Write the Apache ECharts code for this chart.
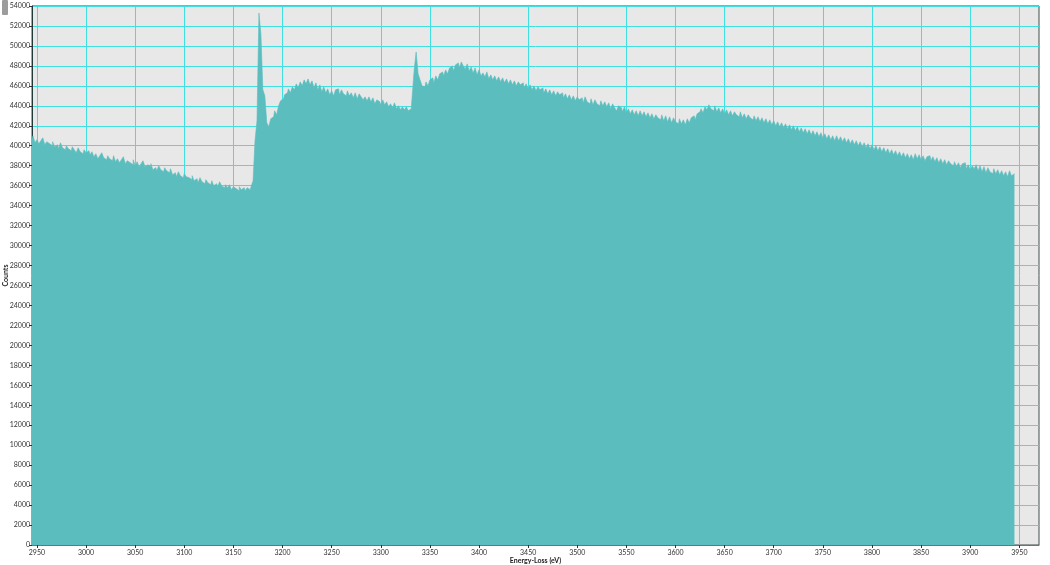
<!DOCTYPE html>
<html>
<head>
<meta charset="utf-8">
<script src="https://cdn.jsdelivr.net/npm/echarts@6/dist/echarts.min.js"></script>
<style>
html,body{margin:0;padding:0;background:#fff;}
#chart{width:1050px;height:565px;}
</style>
</head>
<body>
<div id="chart"></div>
<script>
// Energy-loss channels: first channel energy (eV) and channel width (eV)
const energyStart = 2945;
const energyStep = 2;
// Counts per channel (rows of 10 channels = 20 eV)
const counts = [
  40700, 41000, 40300, 40600, 40200, 40500, 40800, 40100, 40400, 40200,
  40000, 40400, 39900, 40100, 39700, 40300, 39800, 39600, 40000, 39700,
  39500, 39900, 39600, 39300, 39800, 39400, 39200, 39600, 39300, 39500,
  39100, 39400, 38900, 39200, 38700, 39000, 39300, 38800, 38600, 39000,
  38700, 38500, 39000, 38400, 38700, 38300, 38600, 38900, 38200, 38500,
  38300, 38100, 38600, 38000, 38400, 37900, 38200, 38500, 37900, 38100,
  37900, 38200, 37600, 37800, 37500, 38000, 37600, 37400, 37800, 37500,
  37300, 37700, 37100, 37300, 36900, 37400, 37000, 36800, 37200, 36900,
  36800, 36600, 37000, 36500, 36700, 36300, 36800, 36400, 36200, 36600,
  36300, 36100, 36500, 36000, 36200, 35900, 36400, 36000, 35800, 36100,
  35800, 36100, 35600, 35900, 35700, 35500, 35900, 35600, 35800, 35500,
  35800, 35600, 35900, 36500, 40500, 42500, 53300, 51200, 45600, 45000,
  42300, 41900, 42700, 42900, 43500, 43100, 44000, 44500, 44700, 45100,
  45300, 45700, 45300, 45900, 45600, 46200, 45800, 46400, 46000, 46600,
  46200, 46700, 46100, 46500, 45800, 46300, 45600, 46100, 45400, 45900,
  45300, 45700, 45100, 45500, 45000, 45600, 45700, 45100, 45600, 45200,
  45000, 45500, 45000, 45300, 44800, 45300, 44700, 45200, 44900, 44600,
  44900, 44500, 44900, 44400, 44800, 44200, 44600, 44400, 44100, 44600,
  44100, 44400, 43900, 44200, 43800, 44300, 43700, 44000, 43600, 43900,
  43600, 43900, 43500, 43700, 45000, 47600, 49400, 47200, 46600, 46000,
  45900, 46400, 46000, 46600, 46800, 46300, 47000, 46600, 47200, 47400,
  47000, 47600, 47200, 47800, 48000, 47500, 48100, 48300, 47800, 48400,
  48000, 47700, 48200, 47500, 47900, 47300, 47800, 47100, 47600, 47000,
  47300, 46900, 47400, 46700, 47100, 46600, 47000, 46500, 46900, 46400,
  46800, 46300, 46700, 46200, 46600, 46100, 46500, 46000, 46400, 46100,
  46300, 45800, 46200, 45700, 46100, 45600, 46000, 45500, 45900, 45600,
  45800, 45300, 45700, 45200, 45600, 45100, 45500, 45000, 45400, 45100,
  45300, 44800, 45200, 44700, 45100, 44600, 45000, 44500, 44900, 44600,
  44800, 44300, 44900, 44400, 44200, 44700, 44100, 44600, 44200, 44000,
  44500, 44000, 44400, 43900, 44300, 43700, 44200, 43800, 43500, 44000,
  43800, 43400, 43900, 43300, 43700, 43200, 43600, 43100, 43500, 43000,
  43500, 43000, 43400, 42900, 43300, 42800, 43200, 42700, 43100, 42800,
  42600, 43100, 42500, 43000, 42400, 42900, 42300, 42800, 42400, 42200,
  42700, 42200, 42600, 42100, 42700, 42300, 42800, 43000, 42600, 43200,
  43400, 43700, 43300, 43900, 43600, 44100, 43700, 43500, 44000, 43400,
  43800, 43300, 43700, 43200, 43600, 43100, 43500, 43000, 43400, 43100,
  42900, 43400, 42800, 43200, 42700, 43100, 42800, 42600, 43000, 42500,
  42900, 42400, 42800, 42300, 42700, 42200, 42600, 42100, 42500, 42000,
  42400, 41900, 42300, 41800, 42200, 41700, 42100, 41600, 42000, 41500,
  41900, 41400, 41800, 41300, 41700, 41200, 41600, 41100, 41500, 41000,
  41400, 40900, 41300, 40800, 41200, 40700, 41100, 40600, 41000, 40500,
  41000, 40500, 40900, 40400, 40800, 40300, 40700, 40200, 40600, 40100,
  40500, 40000, 40400, 39900, 40300, 39800, 40200, 39700, 40100, 39600,
  40000, 39500, 39900, 39400, 39800, 39300, 39700, 39200, 39600, 39100,
  39500, 39000, 39400, 38900, 39300, 38800, 39200, 38700, 39100, 38600,
  39200, 38700, 39100, 38600, 39000, 38500, 38900, 39000, 38500, 38900,
  38400, 38800, 38300, 38700, 38200, 38600, 38100, 38500, 38200, 38000,
  38400, 37900, 38300, 37800, 38200, 38300, 37700, 38100, 37600, 38000,
  37700, 38100, 37500, 38000, 37400, 37900, 37300, 37800, 37400, 37200,
  37700, 37200, 37600, 37100, 37500, 37000, 37400, 36900, 37500, 37000,
  37200
];
// Axis ticks
const xTicks = [2950,3000,3050,3100,3150,3200,3250,3300,3350,3400,3450,3500,3550,3600,3650,3700,3750,3800,3850,3900,3950];
const xMin = 2945, xMax = 3970;
const yMin = 0, yMax = 54000, yStep = 2000;

const seriesData = counts.map((c, i) => [energyStart + i * energyStep, c]);
const fill = '#5bbdbd';
const gridColor = '#40e0e0';
const labelFont = { fontFamily: 'Lato', fontSize: 7, color: '#333' };

const chart = echarts.init(document.getElementById('chart'));
chart.setOption({
  animation: false,
  backgroundColor: '#ffffff',
  grid: {
    left: 32, right: 11, top: 6, bottom: 20,
    outerBoundsMode: 'none', containLabel: false,
    show: true, backgroundColor: '#e8e8e8',
    borderColor: '#3d4f4c', borderWidth: 1
  },
  graphic: [{
    type: 'rect', left: 2, top: 0,
    shape: { width: 6, height: 15, r: 1 },
    style: { fill: '#9c9c9c' }
  }],
  xAxis: {
    type: 'value', min: xMin, max: xMax,
    name: 'Energy-Loss (eV)', nameLocation: 'middle', nameGap: 12, nameMoveOverlap: false,
    nameTextStyle: { fontFamily: 'Lato', fontSize: 7, fontWeight: 'bold', color: '#222', verticalAlign: 'top' },
    axisLine: { show: true, onZero: false, lineStyle: { color: '#55807a', width: 1 } },
    axisTick: { show: true, length: 3, customValues: xTicks, lineStyle: { color: '#333' } },
    axisLabel: Object.assign({ customValues: xTicks, margin: 4, formatter: v => String(v) }, labelFont),
    splitLine: { show: false }
  },
  yAxis: {
    type: 'value', min: yMin, max: yMax, interval: yStep,
    name: 'Counts', nameLocation: 'middle', nameGap: 23, nameRotate: 90, nameMoveOverlap: false,
    nameTextStyle: { fontFamily: 'Lato', fontSize: 7, fontWeight: 'bold', color: '#222' },
    axisLine: { show: true, lineStyle: { color: '#1f3a38', width: 1 } },
    axisTick: { show: true, length: 3, lineStyle: { color: '#333' } },
    axisLabel: Object.assign({ margin: 2, formatter: v => String(v) }, labelFont),
    splitLine: { show: true, lineStyle: { color: gridColor, width: 1 } }
  },
  series: [{
    // vertical grid lines at the x tick values, drawn behind the spectrum
    type: 'line', data: [], z: 1, silent: true,
    markLine: {
      z: 1, silent: true, symbol: 'none', animation: false,
      label: { show: false },
      lineStyle: { color: gridColor, width: 1, type: 'solid' },
      data: xTicks.map(v => ({ xAxis: v }))
    }
  }, {
    type: 'line',
    data: seriesData,
    symbol: 'none',
    step: 'middle',
    sampling: null,
    lineStyle: { color: fill, width: 0.6 },
    areaStyle: { color: fill, opacity: 1 },
    z: 3
  }]
});
</script>
</body>
</html>
